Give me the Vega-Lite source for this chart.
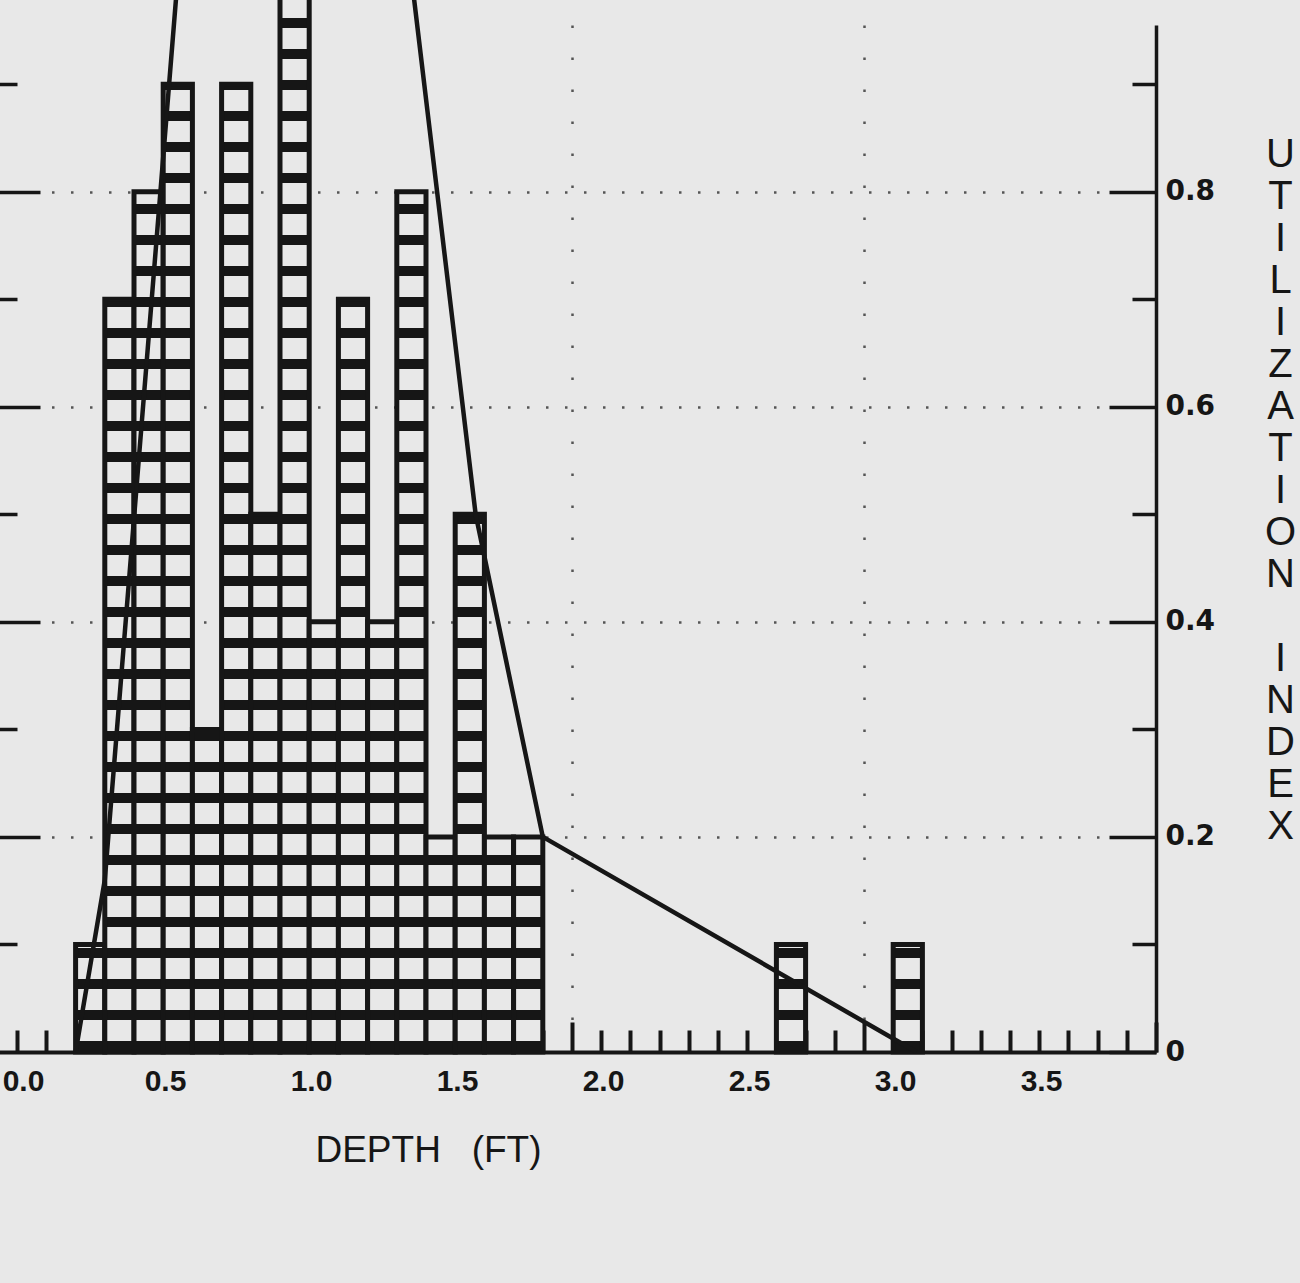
{
  "$schema": "https://vega.github.io/schema/vega-lite/v6.json",
  "width": 1168,
  "height": 1027,
  "autosize": {"type": "none"},
  "padding": {"left": -12, "top": 25, "right": 144, "bottom": 231},
  "background": "#e8e8e8",
  "config": {"view": {"stroke": null}},
  "params": [
    {"name": "hatch", "value": [
      {"offset": 0, "color": "#e8e8e8"},
      {"offset": 0.00092, "color": "#e8e8e8"}, {"offset": 0.00092, "color": "#161616"}, {"offset": 0.01014, "color": "#161616"}, {"offset": 0.01014, "color": "#e8e8e8"},
      {"offset": 0.02949, "color": "#e8e8e8"}, {"offset": 0.02949, "color": "#161616"}, {"offset": 0.03871, "color": "#161616"}, {"offset": 0.03871, "color": "#e8e8e8"},
      {"offset": 0.05806, "color": "#e8e8e8"}, {"offset": 0.05806, "color": "#161616"}, {"offset": 0.06728, "color": "#161616"}, {"offset": 0.06728, "color": "#e8e8e8"},
      {"offset": 0.08664, "color": "#e8e8e8"}, {"offset": 0.08664, "color": "#161616"}, {"offset": 0.09585, "color": "#161616"}, {"offset": 0.09585, "color": "#e8e8e8"},
      {"offset": 0.11521, "color": "#e8e8e8"}, {"offset": 0.11521, "color": "#161616"}, {"offset": 0.12442, "color": "#161616"}, {"offset": 0.12442, "color": "#e8e8e8"},
      {"offset": 0.14378, "color": "#e8e8e8"}, {"offset": 0.14378, "color": "#161616"}, {"offset": 0.15300, "color": "#161616"}, {"offset": 0.15300, "color": "#e8e8e8"},
      {"offset": 0.17235, "color": "#e8e8e8"}, {"offset": 0.17235, "color": "#161616"}, {"offset": 0.18157, "color": "#161616"}, {"offset": 0.18157, "color": "#e8e8e8"},
      {"offset": 0.20092, "color": "#e8e8e8"}, {"offset": 0.20092, "color": "#161616"}, {"offset": 0.21014, "color": "#161616"}, {"offset": 0.21014, "color": "#e8e8e8"},
      {"offset": 0.22949, "color": "#e8e8e8"}, {"offset": 0.22949, "color": "#161616"}, {"offset": 0.23871, "color": "#161616"}, {"offset": 0.23871, "color": "#e8e8e8"},
      {"offset": 0.25806, "color": "#e8e8e8"}, {"offset": 0.25806, "color": "#161616"}, {"offset": 0.26728, "color": "#161616"}, {"offset": 0.26728, "color": "#e8e8e8"},
      {"offset": 0.28664, "color": "#e8e8e8"}, {"offset": 0.28664, "color": "#161616"}, {"offset": 0.29585, "color": "#161616"}, {"offset": 0.29585, "color": "#e8e8e8"},
      {"offset": 0.31521, "color": "#e8e8e8"}, {"offset": 0.31521, "color": "#161616"}, {"offset": 0.32442, "color": "#161616"}, {"offset": 0.32442, "color": "#e8e8e8"},
      {"offset": 0.34378, "color": "#e8e8e8"}, {"offset": 0.34378, "color": "#161616"}, {"offset": 0.35300, "color": "#161616"}, {"offset": 0.35300, "color": "#e8e8e8"},
      {"offset": 0.37235, "color": "#e8e8e8"}, {"offset": 0.37235, "color": "#161616"}, {"offset": 0.38157, "color": "#161616"}, {"offset": 0.38157, "color": "#e8e8e8"},
      {"offset": 0.40092, "color": "#e8e8e8"}, {"offset": 0.40092, "color": "#161616"}, {"offset": 0.41014, "color": "#161616"}, {"offset": 0.41014, "color": "#e8e8e8"},
      {"offset": 0.42949, "color": "#e8e8e8"}, {"offset": 0.42949, "color": "#161616"}, {"offset": 0.43871, "color": "#161616"}, {"offset": 0.43871, "color": "#e8e8e8"},
      {"offset": 0.45806, "color": "#e8e8e8"}, {"offset": 0.45806, "color": "#161616"}, {"offset": 0.46728, "color": "#161616"}, {"offset": 0.46728, "color": "#e8e8e8"},
      {"offset": 0.48664, "color": "#e8e8e8"}, {"offset": 0.48664, "color": "#161616"}, {"offset": 0.49585, "color": "#161616"}, {"offset": 0.49585, "color": "#e8e8e8"},
      {"offset": 0.51521, "color": "#e8e8e8"}, {"offset": 0.51521, "color": "#161616"}, {"offset": 0.52442, "color": "#161616"}, {"offset": 0.52442, "color": "#e8e8e8"},
      {"offset": 0.54378, "color": "#e8e8e8"}, {"offset": 0.54378, "color": "#161616"}, {"offset": 0.55300, "color": "#161616"}, {"offset": 0.55300, "color": "#e8e8e8"},
      {"offset": 0.57235, "color": "#e8e8e8"}, {"offset": 0.57235, "color": "#161616"}, {"offset": 0.58157, "color": "#161616"}, {"offset": 0.58157, "color": "#e8e8e8"},
      {"offset": 0.60092, "color": "#e8e8e8"}, {"offset": 0.60092, "color": "#161616"}, {"offset": 0.61014, "color": "#161616"}, {"offset": 0.61014, "color": "#e8e8e8"},
      {"offset": 0.62949, "color": "#e8e8e8"}, {"offset": 0.62949, "color": "#161616"}, {"offset": 0.63871, "color": "#161616"}, {"offset": 0.63871, "color": "#e8e8e8"},
      {"offset": 0.65806, "color": "#e8e8e8"}, {"offset": 0.65806, "color": "#161616"}, {"offset": 0.66728, "color": "#161616"}, {"offset": 0.66728, "color": "#e8e8e8"},
      {"offset": 0.68664, "color": "#e8e8e8"}, {"offset": 0.68664, "color": "#161616"}, {"offset": 0.69585, "color": "#161616"}, {"offset": 0.69585, "color": "#e8e8e8"},
      {"offset": 0.71521, "color": "#e8e8e8"}, {"offset": 0.71521, "color": "#161616"}, {"offset": 0.72442, "color": "#161616"}, {"offset": 0.72442, "color": "#e8e8e8"},
      {"offset": 0.74378, "color": "#e8e8e8"}, {"offset": 0.74378, "color": "#161616"}, {"offset": 0.75300, "color": "#161616"}, {"offset": 0.75300, "color": "#e8e8e8"},
      {"offset": 0.77235, "color": "#e8e8e8"}, {"offset": 0.77235, "color": "#161616"}, {"offset": 0.78157, "color": "#161616"}, {"offset": 0.78157, "color": "#e8e8e8"},
      {"offset": 0.80092, "color": "#e8e8e8"}, {"offset": 0.80092, "color": "#161616"}, {"offset": 0.81014, "color": "#161616"}, {"offset": 0.81014, "color": "#e8e8e8"},
      {"offset": 0.82949, "color": "#e8e8e8"}, {"offset": 0.82949, "color": "#161616"}, {"offset": 0.83871, "color": "#161616"}, {"offset": 0.83871, "color": "#e8e8e8"},
      {"offset": 0.85806, "color": "#e8e8e8"}, {"offset": 0.85806, "color": "#161616"}, {"offset": 0.86728, "color": "#161616"}, {"offset": 0.86728, "color": "#e8e8e8"},
      {"offset": 0.88664, "color": "#e8e8e8"}, {"offset": 0.88664, "color": "#161616"}, {"offset": 0.89585, "color": "#161616"}, {"offset": 0.89585, "color": "#e8e8e8"},
      {"offset": 0.91521, "color": "#e8e8e8"}, {"offset": 0.91521, "color": "#161616"}, {"offset": 0.92442, "color": "#161616"}, {"offset": 0.92442, "color": "#e8e8e8"},
      {"offset": 0.94378, "color": "#e8e8e8"}, {"offset": 0.94378, "color": "#161616"}, {"offset": 0.95300, "color": "#161616"}, {"offset": 0.95300, "color": "#e8e8e8"},
      {"offset": 0.97235, "color": "#e8e8e8"}, {"offset": 0.97235, "color": "#161616"}, {"offset": 0.98157, "color": "#161616"}, {"offset": 0.98157, "color": "#e8e8e8"},
      {"offset": 1, "color": "#e8e8e8"}
    ]}
  ],
  "datasets": {
    "bars": [
      {"start": 0.3, "end": 0.4, "u": 0.1},
      {"start": 0.4, "end": 0.5, "u": 0.7},
      {"start": 0.5, "end": 0.6, "u": 0.8},
      {"start": 0.6, "end": 0.7, "u": 0.9},
      {"start": 0.7, "end": 0.8, "u": 0.3},
      {"start": 0.8, "end": 0.9, "u": 0.9},
      {"start": 0.9, "end": 1.0, "u": 0.5},
      {"start": 1.0, "end": 1.1, "u": 1.0},
      {"start": 1.1, "end": 1.2, "u": 0.4},
      {"start": 1.2, "end": 1.3, "u": 0.7},
      {"start": 1.3, "end": 1.4, "u": 0.4},
      {"start": 1.4, "end": 1.5, "u": 0.8},
      {"start": 1.5, "end": 1.6, "u": 0.2},
      {"start": 1.6, "end": 1.7, "u": 0.5},
      {"start": 1.7, "end": 1.8, "u": 0.2},
      {"start": 1.8, "end": 1.9, "u": 0.2},
      {"start": 2.7, "end": 2.8, "u": 0.1},
      {"start": 3.1, "end": 3.2, "u": 0.1}
    ],
    "curve": [
      {"depth": 0.3, "u": 0},
      {"depth": 0.4, "u": 0.16},
      {"depth": 0.65, "u": 1.0},
      {"depth": 1.45, "u": 1.0},
      {"depth": 1.67, "u": 0.5},
      {"depth": 1.9, "u": 0.2},
      {"depth": 3.18, "u": 0}
    ]
  },
  "layer": [
    {
      "data": {"name": "bars"},
      "mark": {
        "type": "rect",
        "fill": {"expr": "{gradient: 'linear', x1: 0, x2: 0, y1: 1, y2: 1 - 1.008927 / datum.u, stops: hatch}"},
        "stroke": "#161616",
        "strokeWidth": 5,
        "strokeJoin": "miter"
      },
      "encoding": {
        "x": {
          "field": "start", "type": "quantitative",
          "scale": {"domain": [0, 4], "nice": false, "zero": false},
          "axis": {
            "orient": "bottom",
            "values": [0, 0.1, 0.2, 0.3, 0.4, 0.5, 0.6, 0.7, 0.8, 0.9, 1, 1.1, 1.2, 1.3, 1.4, 1.5, 1.6, 1.7, 1.8, 1.9, 2, 2.1, 2.2, 2.3, 2.4, 2.5, 2.6, 2.7, 2.8, 2.9, 3, 3.1, 3.2, 3.3, 3.4, 3.5, 3.6, 3.7, 3.8, 3.9, 4],
            "domain": true, "domainColor": "#161616", "domainWidth": 4,
            "ticks": true, "tickColor": "#161616", "tickWidth": 4,
            "tickSize": {"condition": {"test": "round(datum.value*10) % 10 == 0", "value": -30}, "value": -22},
            "grid": true, "gridColor": "#555555", "gridWidth": 2.5, "gridDash": [2.5, 29.5],
            "gridOpacity": {"condition": {"test": "round(datum.value*10) % 10 == 0 && datum.value > 0.5 && datum.value < 3.5", "value": 1}, "value": 0},
            "labelExpr": "round(datum.value*10) % 5 == 0 && datum.value < 3.9 ? format(datum.value, '.1f') : ''",
            "labelFont": "Liberation Sans", "labelFontWeight": "bold", "labelFontSize": 30, "labelColor": "#161616",
            "labelAlign": "center", "labelBaseline": "top",
            "labelOffset": {"condition": {"test": "datum.value < 0.05", "value": 35}, "value": 31},
            "labelPadding": {"condition": {"test": "round(datum.value*10) % 10 == 0", "value": 44}, "value": 36},
            "labelFlush": false, "labelOverlap": false, "labelBound": false,
            "title": "DEPTH\u00a0\u00a0\u00a0(FT)",
            "titleFont": "Liberation Sans", "titleFontWeight": "normal", "titleFontSize": 37, "titleColor": "#161616",
            "titleX": 440, "titleY": 98, "titleAlign": "center", "titleBaseline": "middle", "titleAngle": 0
          }
        },
        "x2": {"field": "end"},
        "y": {
          "field": "u", "type": "quantitative",
          "scale": {"domain": [0, 0.955], "nice": false},
          "axis": {
            "orient": "right",
            "values": [0, 0.1, 0.2, 0.3, 0.4, 0.5, 0.6, 0.7, 0.8, 0.9],
            "domain": true, "domainColor": "#161616", "domainWidth": 3.5,
            "ticks": true, "tickColor": "#161616", "tickWidth": 3.5,
            "tickSize": {"condition": {"test": "round(datum.value*10) % 2 == 0", "value": -47}, "value": -24},
            "grid": true, "gridColor": "#555555", "gridWidth": 2.5, "gridDash": [2.5, 16.5],
            "gridOpacity": {"condition": {"test": "round(datum.value*10) % 2 == 0 && datum.value > 0.05", "value": 1}, "value": 0},
            "labelExpr": "round(datum.value*10) % 2 == 0 ? (datum.value == 0 ? '0' : format(datum.value, '.1f')) : ''",
            "labelFont": "DejaVu Sans", "labelFontWeight": "bold", "labelFontSize": 28, "labelColor": "#161616",
            "labelAlign": "left", "labelBaseline": "middle", "labelPadding": 56,
            "labelFlush": false, "labelOverlap": false, "labelBound": false,
            "title": ["U", "T", "I", "L", "I", "Z", "A", "T", "I", "O", "N", "\u200b", "I", "N", "D", "E", "X"],
            "titleFont": "Liberation Sans", "titleFontWeight": "normal", "titleFontSize": 40, "titleLineHeight": 42, "titleColor": "#161616",
            "titleAngle": 0, "titleAlign": "center", "titleBaseline": "alphabetic", "titleX": 124, "titleY": 141
          }
        },
        "y2": {"datum": 0}
      }
    },
    {
      "data": {"name": "curve"},
      "mark": {"type": "line", "color": "#161616", "strokeWidth": 4.5, "strokeJoin": "miter"},
      "encoding": {
        "x": {"field": "depth", "type": "quantitative", "scale": {"domain": [0, 4], "nice": false, "zero": false}, "axis": null},
        "y": {
          "field": "u", "type": "quantitative",
          "scale": {"domain": [0, 0.955], "nice": false},
          "axis": {
            "orient": "left",
            "values": [0.1, 0.2, 0.3, 0.4, 0.5, 0.6, 0.7, 0.8, 0.9],
            "domain": false, "labels": false, "grid": false, "title": null,
            "ticks": true, "tickColor": "#161616", "tickWidth": 3.5,
            "tickSize": {"condition": {"test": "round(datum.value*10) % 2 == 0", "value": -52}, "value": -29}
          }
        }
      }
    }
  ],
  "resolve": {"axis": {"x": "independent", "y": "independent"}}
}
